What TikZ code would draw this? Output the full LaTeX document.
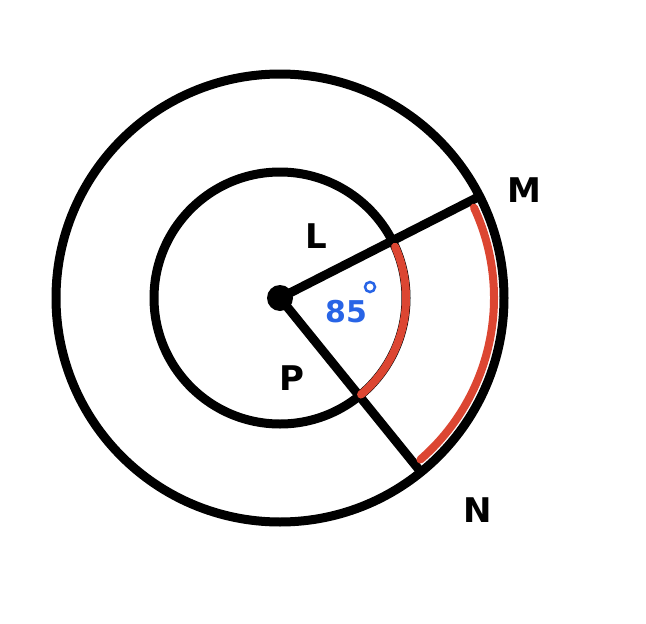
\documentclass[tikz,border=0pt]{standalone}
\usepackage{fontspec}
\setmainfont{DejaVu Sans}
\usetikzlibrary{calc}
\begin{document}
\begin{tikzpicture}[x=1pt,y=-1pt,
  circ/.style={draw=black,line width=9pt},
  red/.style={draw={rgb,255:red,220;green,70;blue,50},line width=8pt,line cap=round},
  lab/.style={font=\bfseries\fontsize{34}{34}\selectfont}]
\useasboundingbox (0,0) rectangle (646,624);
\coordinate (C) at (280,298);
\draw[circ] (C) circle[radius=126];
\draw[circ] (C) circle[radius=224];
\fill (C) circle[radius=13];
\coordinate (M) at ($(C)+(-27:224)$);
\coordinate (N) at ($(C)+(51:224)$);
\draw[line width=9pt] (C) -- (M);
\draw[line width=9pt] (C) -- (N);
\draw[red] ($(C)+(-24:126)$) arc[start angle=-24,end angle=50,radius=126];
\draw[red] ($(C)+(-25:214)$) arc[start angle=-25,end angle=49,radius=214];
\node[lab] (l) at (316,236) {L};
\node[lab] (p) at (292,378) {P};
\node[lab] (m) at (524,190) {M};
\node[lab] (n) at (478,510) {N};
\node[font=\bfseries\fontsize{30}{30}\selectfont,text={rgb,255:red,40;green,100;blue,230}] (a) at (346,312) {85};
\draw[draw={rgb,255:red,40;green,100;blue,230},line width=2.5pt] (370,287) circle[radius=5];
\end{tikzpicture}
\end{document}
